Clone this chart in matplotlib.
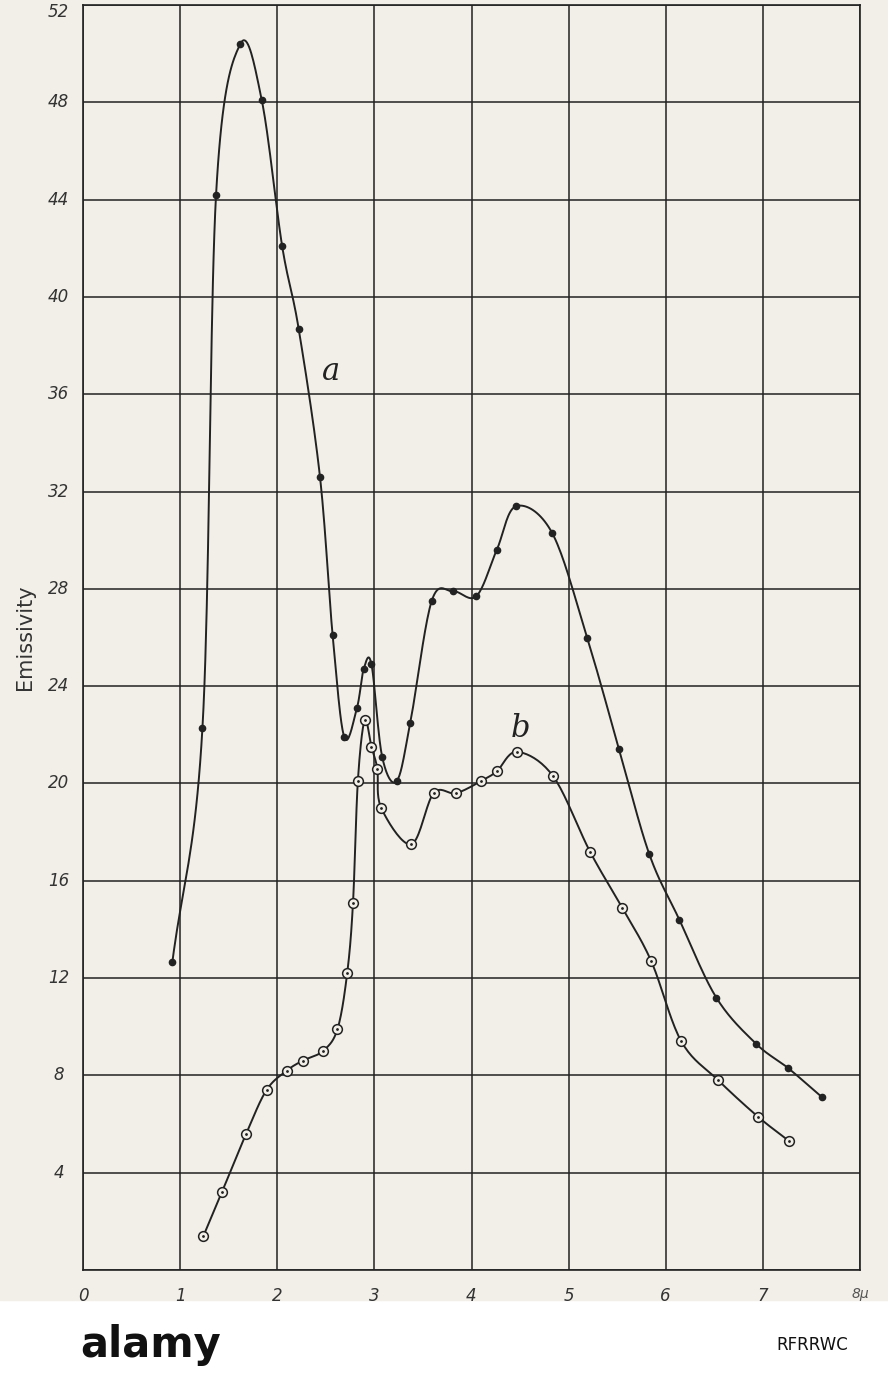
import numpy as np
import matplotlib
matplotlib.use("Agg")
import matplotlib.pyplot as plt

a_x = [0.92,1.23,1.37,1.62,1.84,2.05,2.22,2.44,2.57,2.69,2.82,2.89,2.97,3.08,3.23,3.37,3.59,3.81,4.05,4.26,4.46,4.83,5.19,5.52,5.83,6.14,6.52,6.93,7.26,7.61]
a_y = [12.66,22.3,44.2,50.4,48.1,42.1,38.7,32.6,26.1,21.9,23.1,24.7,24.9,21.1,20.1,22.5,27.5,27.9,27.7,29.6,31.4,30.3,26.0,21.4,17.1,14.4,11.2,9.3,8.3,7.1]
b_x = [1.24,1.43,1.68,1.89,2.10,2.26,2.47,2.62,2.72,2.78,2.83,2.90,2.97,3.03,3.07,3.38,3.61,3.84,4.10,4.26,4.47,4.84,5.22,5.55,5.85,6.16,6.54,6.95,7.27]
b_y = [1.4,3.2,5.6,7.4,8.2,8.6,9.0,9.9,12.2,15.1,20.1,22.6,21.5,20.6,19.0,17.5,19.6,19.6,20.1,20.5,21.3,20.3,17.2,14.9,12.7,9.4,7.8,6.3,5.3]
yticks = list(range(4, 53, 4))
xticks = list(range(0, 8))

def smooth(x, y, n=20):
    P = np.column_stack([x, y]).astype(float)
    P = np.vstack([P[0]*2-P[1], P, P[-1]*2-P[-2]])
    out = []
    t = np.linspace(0, 1, n, endpoint=False)[:, None]
    for i in range(1, len(P)-2):
        p0, p1, p2, p3 = P[i-1], P[i], P[i+1], P[i+2]
        seg = 0.5*((2*p1) + (-p0+p2)*t + (2*p0-5*p1+4*p2-p3)*t**2 + (-p0+3*p1-3*p2+p3)*t**3)
        out.append(seg)
    out.append(P[-2][None, :])
    S = np.vstack(out)
    return S[:, 0], S[:, 1]

bg = '#f2efe8'
fig = plt.figure(figsize=(8.88, 13.9), dpi=100)
fig.patch.set_facecolor('white')
fig.patches.append(plt.Rectangle((0, 1-1300/1390), 1, 1300/1390, transform=fig.transFigure, color=bg, zorder=-10))
ax = fig.add_axes([83/888, 1-1270/1390, 777/888, 1265/1390])
ax.set_facecolor(bg)
ax.set_xlim(0, 8); ax.set_ylim(0, 52)
ax.set_xticks(range(0, 9)); ax.set_yticks(range(0, 53, 4))
ax.grid(True, color='#222', lw=1.1)
ax.tick_params(length=0, labelleft=False, labelbottom=False)
for s in ax.spines.values():
    s.set_color('#222'); s.set_linewidth(1.2)

sx, sy = smooth(a_x, a_y)
ax.plot(sx, sy, color='#222', lw=1.4, zorder=3)
ax.plot(a_x, a_y, 'o', color='#222', ms=4.5, zorder=4)
sx, sy = smooth(b_x, b_y)
ax.plot(sx, sy, color='#222', lw=1.4, zorder=3)
ax.plot(b_x, b_y, 'o', mfc=bg, mec='#222', ms=7, mew=1.1, zorder=4)
ax.plot(b_x, b_y, '.', color='#222', ms=2, zorder=5)

ax.text(2.46, 36.6, 'a', fontsize=22, style='italic', family='DejaVu Serif', color='#222')
ax.text(4.4, 21.9, 'b', fontsize=22, style='italic', family='DejaVu Serif', color='#222')

for v in yticks:
    yy = 51.7 if v == 52 else v
    ax.text(-0.25, yy, str(v), ha='center', va='center', fontsize=12, style='italic', color='#333')
for v in xticks:
    ax.text(v, -0.7, str(v), ha='center', va='top', fontsize=12, style='italic', color='#333')
ax.text(8, -0.7, '8μ', ha='center', va='top', fontsize=10, style='italic', color='#555')
ax.text(-0.6, 26, 'Emissivity', rotation=90, ha='center', va='center', fontsize=15, color='#333')
for sp in ax.spines.values(): sp.set_clip_on(False)
for t in ax.texts: t.set_clip_on(False)

fig.text(0.17, 1-1345/1390, 'alamy', fontsize=30, weight='bold', ha='center', va='center', color='#111')
fig.text(0.915, 1-1345/1390, 'RFRRWC', fontsize=12, ha='center', va='center', color='#111')
fig.savefig('out.png', dpi=100)
